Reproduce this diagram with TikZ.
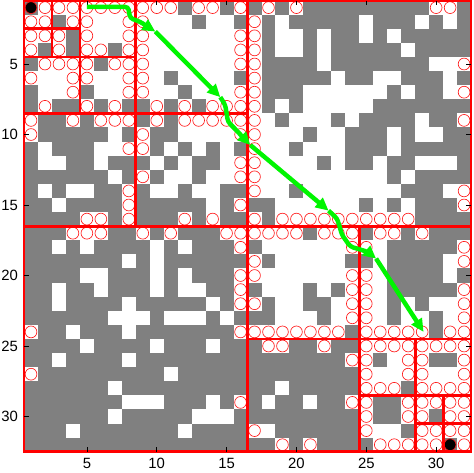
\documentclass[tikz,border=0pt]{standalone}
\usepackage{fontspec}
\setmainfont{Liberation Sans}
\usetikzlibrary{arrows.meta}

\definecolor{cellgray}{RGB}{128,128,128}
\definecolor{routegreen}{RGB}{0,245,0}

% one grid row: x = blocked cell, o = free border cell, * = start / goal
\newcommand\gridrow[2]{\def\rowno{#1}\def\colno{0}\readcell#2\relax}
\def\readcell#1{%
  \ifx#1\relax\else
    \pgfmathtruncatemacro\colno{\colno+1}%
    \if x#1\fill[blocked] (\colno-1,1-\rowno) rectangle (\colno,-\rowno);\fi
    \if o#1\draw[portal] (\colno-0.5,0.5-\rowno) circle[radius=0.42];\fi
    \if *#1\fill[blocked] (\colno-1,1-\rowno) rectangle (\colno,-\rowno);
      \draw[portal, fill=black] (\colno-0.5,0.5-\rowno) circle[radius=0.42];\fi
    \expandafter\readcell
  \fi}

\begin{document}
\begin{tikzpicture}[x=0.4954cm, y=0.5cm,
    >={Triangle[length=13pt, width=12pt]},
    blocked/.style={fill=cellgray},
    portal/.style={draw=red!90!white, line width=0.65pt},
    split/.style={red, line width=2.8pt},
    tick/.style={black, line width=0.6pt},
    route/.style={routegreen, line width=4.5pt, ->, rounded corners=3pt},
    every node/.style={font=\fontsize{15}{18}\selectfont, inner sep=0pt}]
  \useasboundingbox (-1.72,0.04) rectangle (32.21,-33.45);
  \fill[white] (-1.72,0.04) rectangle (32.21,-33.45);

  % Cells
  \gridrow{1}{*ooooooooooxooxoxoxoxxxxxxxxxoox}
  \gridrow{2}{ooxoo..oo...x..xox.xxxxx.xxx.x.x}
  \gridrow{3}{oooxo..oo......oox..x.xx.x.xxxxx}
  \gridrow{4}{oxoxooxoo......oox..x.xxxxx.xxxx}
  \gridrow{5}{xooooxooo......ooxxxx.xxxxxxx..o}
  \gridrow{6}{o..oo..oo.x....xoxxxxx.xx..xxx.x}
  \gridrow{7}{x..ox..oo..x...ooxxx......x.xx.o}
  \gridrow{8}{xoxxoxoxxoxoxoooox.x.....xxxxxxx}
  \gridrow{9}{oxxoxoooxoxoooooo.x...x.xxxx.xxo}
  \gridrow{10}{oxxxxx.xoxx....oo...x..xxx.x..xx}
  \gridrow{11}{x.xxx..oox.x.x.xo..x...xxx.xxxxx}
  \gridrow{12}{x..xx.xxx.x.xx.oo....x.xx.xx...x}
  \gridrow{13}{xxxxxx.xox..x..oo.........x.xxxx}
  \gridrow{14}{x.x..xxox..x..xxo..x.......xxx.o}
  \gridrow{15}{xx.xxxxoxxxxx.xoxx......x.x.xxxo}
  \gridrow{16}{xxxxooxoxxxoxoxxoxooooooooooxxxx}
  \gridrow{17}{xxxoooxxoxoxxxooooooxoooxooxoxxx}
  \gridrow{18}{xx.x.xxxx.x.xxxox......oo.xxxxxo}
  \gridrow{19}{xxxxxxx.x.xxxxxxox.....xx.xxxx.o}
  \gridrow{20}{xxxx..xxx.x.xxxoo......oo.xxxx.x}
  \gridrow{21}{xx.xx.xxx.x..xxox...x.xoo.xxxxxo}
  \gridrow{22}{xx.xxxx.xxxxx.xoox..xx.oo.x.x..o}
  \gridrow{23}{xxxxxx...x...x.xxx...x.oo.x..x.o}
  \gridrow{24}{oxx.xxx.xxxxxxxooooooooxoooooxoo}
  \gridrow{25}{xxxx.xxxx.xxx.xxxooxxoxxoooooooo}
  \gridrow{26}{xx.xxxx.xxxxxxxxxxxxxxxoox.ooxxo}
  \gridrow{27}{oxxxxxxxxx.xxxxxxxxxxxxxo..oo..o}
  \gridrow{28}{xxxxxx.xxxxxxxxxxx.xxxxxoooxoooo}
  \gridrow{29}{xxxxxxx...xxx.xox.xx.xxooxxooooo}
  \gridrow{30}{xxxxxx.xxxxx...xxxxxxxxxoxxooxoo}
  \gridrow{31}{xxx.xxxxxxx.xxxxo.xxxxxxo..xoooo}
  \gridrow{32}{xxxxxxxxxxxxxxxxxxoxoxxxxooooo*o}

  % Block borders
  \draw[split] (0,0) rectangle (32,-32);
  \draw[split] (16,0) -- (16,-32);
  \draw[split] (0,-16) -- (32,-16);
  \draw[split] (8,0) -- (8,-16);
  \draw[split] (0,-8) -- (16,-8);
  \draw[split] (4,0) -- (4,-8);
  \draw[split] (0,-4) -- (8,-4);
  \draw[split] (2,0) -- (2,-4);
  \draw[split] (0,-2) -- (4,-2);
  \draw[split] (24,-16) -- (24,-32);
  \draw[split] (16,-24) -- (32,-24);
  \draw[split] (28,-24) -- (28,-32);
  \draw[split] (24,-28) -- (32,-28);
  \draw[split] (30,-28) -- (30,-32);
  \draw[split] (28,-30) -- (32,-30);

  % Ticks and labels
  \foreach \t in {5,10,...,30} {
    \draw[tick] (\t-0.5,-32) -- ++(0,0.35);
    \draw[tick] (\t-0.5,0) -- ++(0,-0.35);
    \draw[tick] (0,0.5-\t) -- ++(0.35,0);
    \draw[tick] (32,0.5-\t) -- ++(-0.35,0);
    \node[anchor=north] (bx\t) at (\t-0.5,-32.42) {\t};
    \node[anchor=east] (ly\t) at (-0.42,0.5-\t) {\t};
  }

  % Route
  \coordinate (s) at (4.5,-0.45);
  \coordinate (a) at (9.4,-2.2);
  \coordinate (b) at (14.05,-6.85);
  \coordinate (c) at (16.2,-10.25);
  \coordinate (d) at (21.8,-14.9);
  \coordinate (e) at (25.2,-18.3);
  \coordinate (g) at (28.6,-23.5);
  \draw[route] (s) -- (7.45,-0.45) -- (7.6,-1.25) -- (8.3,-1.5) -- (a);
  \draw[route] (a) -- (b);
  \draw[route] (b) -- (14.4,-7.4) -- (14.5,-8.0) -- (14.6,-8.6) -- (15.2,-9.2) -- (c);
  \draw[route] (c) -- (d);
  \draw[route] (d) -- (22.4,-15.45) -- (22.6,-16.05) -- (22.75,-16.6) -- (23.35,-17.45)
    -- (24.05,-17.65) -- (24.65,-17.85) -- (e);
  \draw[route] (e) -- (g);
\end{tikzpicture}
\end{document}
